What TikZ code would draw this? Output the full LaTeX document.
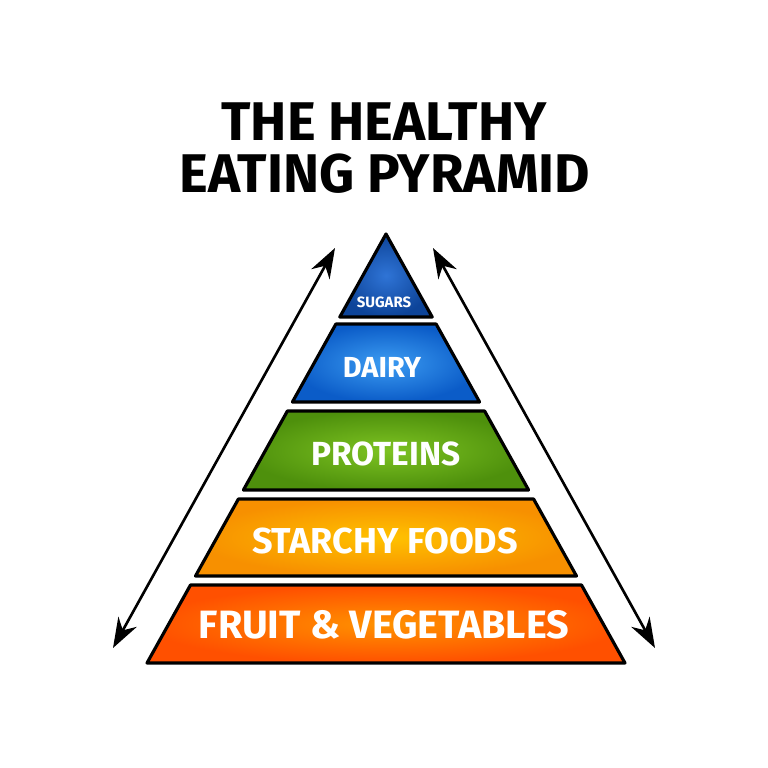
\documentclass[tikz,border=0pt]{standalone}
\usepackage{fontspec}
\setmainfont{Fira Sans}
\usetikzlibrary{arrows.meta}
\definecolor{sugarout}{HTML}{0D4499}
\definecolor{sugarin}{HTML}{2F74D6}
\definecolor{dairyout}{HTML}{0B5CC8}
\definecolor{dairyin}{HTML}{3C9CF2}
\definecolor{protout}{HTML}{4E900C}
\definecolor{protin}{HTML}{7DC322}
\definecolor{starchout}{HTML}{F79000}
\definecolor{starchin}{HTML}{FFC200}
\definecolor{fruitout}{HTML}{FF5000}
\definecolor{fruitin}{HTML}{FF9200}
\tikzset{tier/.style = {draw=black, line width=1.8pt, line join=round},
         tiertext/.style = {text=white, font=\bfseries, anchor=base},
         titletext/.style = {font=\bfseries\fontsize{31}{36}\selectfont, anchor=base},
         sidearrow/.style = {line width=1.5pt, {Stealth[length=0.6cm, width=0.42cm]}-{Stealth[length=0.6cm, width=0.42cm]}}}

\begin{document}
\begin{tikzpicture}[x=0.02cm, y=-0.02cm]
  \useasboundingbox (0,0) rectangle (768,768);
  \node[titletext] (title1) at (384,140) {THE HEALTHY};
  \node[titletext] (title2) at (385,192) {EATING PYRAMID};

  \shade[tier, inner color=sugarin, outer color=sugarout] (386,234) -- (432.2,317) -- (339.8,317) -- cycle;
  \shade[tier, inner color=dairyin, outer color=dairyout] (335.9,324) -- (436.1,324) -- (479.6,402) -- (292.4,402) -- cycle;
  \shade[tier, inner color=protin, outer color=protout] (287.4,411) -- (484.6,411) -- (528.6,490) -- (243.4,490) -- cycle;
  \shade[tier, inner color=starchin, outer color=starchout] (238.4,499) -- (533.6,499) -- (576.5,576) -- (195.5,576) -- cycle;
  \shade[tier, inner color=fruitin, outer color=fruitout] (190.5,585) -- (581.5,585) -- (625,663) -- (147,663) -- cycle;

  \node[tiertext, font=\bfseries\fontsize{8.5}{10}\selectfont] (sugars) at (384,307) {SUGARS};
  \node[tiertext, font=\bfseries\fontsize{16.5}{20}\selectfont] (dairy) at (382,377) {DAIRY};
  \node[tiertext, font=\bfseries\fontsize{19}{23}\selectfont] (proteins) at (386,465) {PROTEINS};
  \node[tiertext, font=\bfseries\fontsize{20.5}{25}\selectfont] (starchy) at (385,553) {STARCHY FOODS};
  \node[tiertext, font=\bfseries\fontsize{22.5}{27}\selectfont] (fruit) at (384,638) {FRUIT \& VEGETABLES};

  \coordinate (lefttop) at (335,248);
  \coordinate (leftbot) at (113,648);
  \coordinate (righttop) at (433,248);
  \coordinate (rightbot) at (655,648);
  \draw[sidearrow] (lefttop) -- (leftbot);
  \draw[sidearrow] (righttop) -- (rightbot);
\end{tikzpicture}
\end{document}
